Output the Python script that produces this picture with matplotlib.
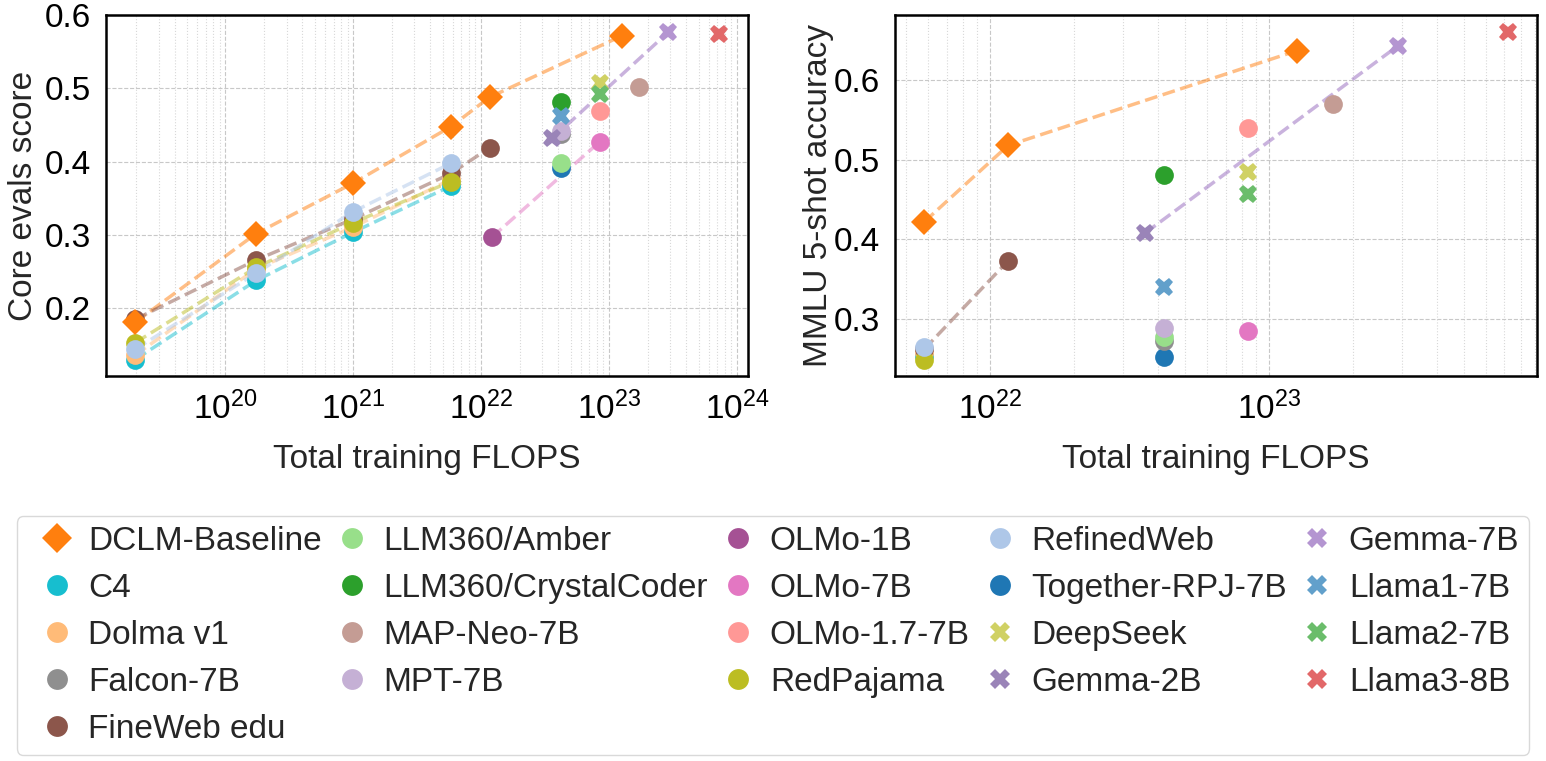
import numpy as np
import matplotlib
matplotlib.use('Agg')
import matplotlib.pyplot as plt
from matplotlib.lines import Line2D

plt.rcParams['font.family'] = ['Liberation Sans', 'DejaVu Sans']
plt.rcParams['font.size'] = 24
plt.rcParams['text.color'] = '.15'

# model / dataset names in legend order
names = ['DCLM-Baseline', 'C4', 'Dolma v1', 'Falcon-7B', 'FineWeb edu',
         'LLM360/Amber', 'LLM360/CrystalCoder', 'MAP-Neo-7B', 'MPT-7B',
         'OLMo-1B', 'OLMo-7B', 'OLMo-1.7-7B', 'RedPajama', 'RefinedWeb',
         'Together-RPJ-7B', 'DeepSeek', 'Gemma-2B', 'Gemma-7B',
         'Llama1-7B', 'Llama2-7B', 'Llama3-8B']
colors = ['#ff7f0e', '#17becf', '#ffbb78', '#8f8f8f', '#8c564b',
          '#98df8a', '#2ca02c', '#c49c94', '#c5b0d5',
          '#a55194', '#e377c2', '#ff9896', '#bcbd22', '#aec7e8',
          '#1f77b4', '#d0d164', '#9a84b8', '#b495d1',
          '#62a0cb', '#6bbd6b', '#e26869']
markers = ['D'] + ['o'] * 14 + ['X'] * 6

# compute scales (FLOPs)
dclm_flops = [1.97e19, 1.74e20, 1.0e21, 5.8e21, 1.16e22, 1.26e23]
ref_flops = [1.97e19, 1.74e20, 1.0e21, 5.8e21]
fwe_flops = [1.97e19, 1.74e20, 1.0e21, 5.8e21, 1.16e22]
olmo_flops = [1.21e22, 8.4e22]
gemma_flops = [3.6e22, 2.9e23]
f_7b = 4.2e22
f_8e22 = 8.4e22
f_mapneo = 1.7e23
f_llama3 = 7.2e23

# ---- left panel: core evals score
core = {
    'DCLM-Baseline': (dclm_flops, [0.181, 0.302, 0.371, 0.448, 0.488, 0.572]),
    'C4': (ref_flops, [0.130, 0.238, 0.304, 0.367]),
    'Dolma v1': (ref_flops, [0.136, 0.254, 0.311, 0.376]),
    'Falcon-7B': ([f_7b], [0.438]),
    'FineWeb edu': (fwe_flops, [0.185, 0.266, 0.322, 0.384, 0.419]),
    'LLM360/Amber': ([f_7b], [0.398]),
    'LLM360/CrystalCoder': ([f_7b], [0.481]),
    'MAP-Neo-7B': ([f_mapneo], [0.502]),
    'MPT-7B': ([f_7b], [0.442]),
    'OLMo-1B': ([olmo_flops[0]], [0.297]),
    'OLMo-7B': ([olmo_flops[1]], [0.427]),
    'OLMo-1.7-7B': ([f_8e22], [0.469]),
    'RedPajama': (ref_flops, [0.153, 0.256, 0.317, 0.373]),
    'RefinedWeb': (ref_flops, [0.144, 0.248, 0.332, 0.398]),
    'Together-RPJ-7B': ([f_7b], [0.392]),
    'DeepSeek': ([f_8e22], [0.508]),
    'Gemma-2B': ([gemma_flops[0]], [0.432]),
    'Gemma-7B': ([gemma_flops[1]], [0.577]),
    'Llama1-7B': ([f_7b], [0.463]),
    'Llama2-7B': ([f_8e22], [0.492]),
    'Llama3-8B': ([f_llama3], [0.575]),
}
core_olmo_line = [0.297, 0.427]
core_gemma_line = [0.432, 0.577]

# ---- right panel: MMLU 5-shot
mmlu = {
    'DCLM-Baseline': ([5.8e21, 1.16e22, 1.26e23], [0.422, 0.518, 0.637]),
    'C4': ([5.8e21], [0.253]),
    'Dolma v1': ([5.8e21], [0.257]),
    'Falcon-7B': ([f_7b], [0.272]),
    'FineWeb edu': ([5.8e21, 1.16e22], [0.262, 0.373]),
    'LLM360/Amber': ([f_7b], [0.277]),
    'LLM360/CrystalCoder': ([f_7b], [0.481]),
    'MAP-Neo-7B': ([f_mapneo], [0.570]),
    'MPT-7B': ([f_7b], [0.289]),
    'OLMo-7B': ([f_8e22], [0.285]),
    'OLMo-1.7-7B': ([f_8e22], [0.540]),
    'RedPajama': ([5.8e21], [0.249]),
    'RefinedWeb': ([5.8e21], [0.265]),
    'Together-RPJ-7B': ([f_7b], [0.252]),
    'DeepSeek': ([f_8e22], [0.485]),
    'Gemma-2B': ([gemma_flops[0]], [0.408]),
    'Gemma-7B': ([gemma_flops[1]], [0.643]),
    'Llama1-7B': ([f_7b], [0.340]),
    'Llama2-7B': ([f_8e22], [0.4575]),
    'Llama3-8B': ([f_llama3], [0.661]),
}
mmlu_gemma_line = [0.408, 0.643]

zorders = {'DCLM-Baseline': 5, 'Together-RPJ-7B': 2.5}


def draw(ax, data, extra_lines):
    for name, col, mk in zip(names, colors, markers):
        if name not in data:
            continue
        xs, ys = data[name]
        z = zorders.get(name, 3)
        if len(xs) > 1:
            ax.plot(xs, ys, '--', color=col, alpha=0.5, lw=2.5, zorder=2)
        ax.plot(xs, ys, linestyle='none', marker=mk, color=col,
                markersize=13.5, markeredgewidth=0, zorder=z)
    for xs, ys, col in extra_lines:
        ax.plot(xs, ys, '--', color=col, alpha=0.5, lw=2.5, zorder=2)
    ax.set_xscale('log')
    ax.grid(True, which='major', linestyle='--', color='#c8c8c8', lw=0.8)
    ax.grid(True, which='minor', axis='x', linestyle=':', color='#d8d8d8', lw=0.8)
    ax.set_axisbelow(True)
    for s in ax.spines.values():
        s.set_color('black')
        s.set_linewidth(1.8)
    ax.tick_params(which='both', length=0, labelsize=24, pad=11)
    ax.set_xlabel('Total training FLOPS', fontsize=24, color='.15', labelpad=13)


fig, (ax1, ax2) = plt.subplots(1, 2, figsize=(15.46, 7.61), dpi=100)
plt.subplots_adjust(left=0.0686, right=0.9942, bottom=0.506, top=0.980, wspace=0.229)

draw(ax1, core, [(olmo_flops, core_olmo_line, '#e377c2'),
                 (gemma_flops, core_gemma_line, '#9467bd')])
ax1.set_ylabel('Core evals score', fontsize=24, color='.15')
ax1.set_yticks([0.2, 0.3, 0.4, 0.5, 0.6])

draw(ax2, mmlu, [(gemma_flops, mmlu_gemma_line, '#9467bd')])
ax2.set_ylabel('MMLU 5-shot accuracy', fontsize=24, color='.15', labelpad=0)
ax2.set_yticks([0.3, 0.4, 0.5, 0.6])

handles = [Line2D([], [], linestyle='none', marker=mk, color=col,
                  markersize=15, markeredgewidth=0)
           for col, mk in zip(colors, markers)]
fig.legend(handles, names, loc='lower center', bbox_to_anchor=(0.5, 0.008),
           ncol=5, fontsize=24, frameon=True, edgecolor='#d0d0d0',
           handlelength=1.8, handletextpad=0.05, columnspacing=0.0,
           labelspacing=0.48, borderpad=0.3, borderaxespad=0)

plt.savefig('out.png', dpi=100)
